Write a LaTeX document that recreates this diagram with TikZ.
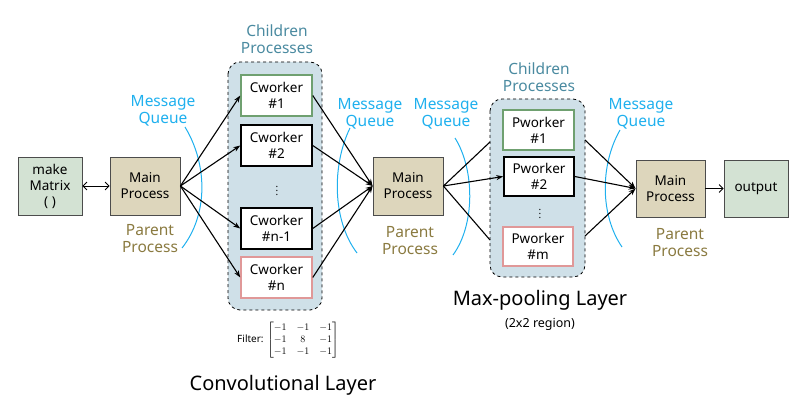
\documentclass[tikz,border=0pt]{standalone}
\usepackage{fontspec}
\usepackage{amsmath}
\setmainfont{Noto Sans}
\usetikzlibrary{arrows.meta}
\definecolor{gbox}{HTML}{D3E2D3}
\definecolor{tbox}{HTML}{DDD6BC}
\definecolor{cont}{HTML}{CFE0E8}
\definecolor{chl}{HTML}{4A8AA0}
\definecolor{mq}{HTML}{1FB0EE}
\definecolor{par}{HTML}{8A7A40}
\definecolor{gbd}{HTML}{6FA070}
\definecolor{rbd}{HTML}{E09898}
\begin{document}
\begin{tikzpicture}[x=1pt,y=-1pt,
  box/.style={draw=black!70,line width=0.8pt,minimum width=70pt,minimum height=58pt,align=center,font=\fontsize{13.5}{16}\selectfont,inner sep=1pt},
  wk/.style={draw,line width=1.5pt,fill=white,minimum width=71pt,minimum height=41pt,align=center,font=\fontsize{13.5}{16}\selectfont,inner sep=1pt},
  cnt/.style={draw,dashed,line width=0.8pt,fill=cont,rounded corners=12pt},
  lbl/.style={align=center,font=\fontsize{15.5}{17}\selectfont},
  arr/.style={-{Stealth[length=7pt,width=5pt]},line width=1.1pt},
  q/.style={mq,line width=1pt}]
\useasboundingbox (0,0) rectangle (810,403);
\draw[cnt] (228,62) rectangle (322,310);
\draw[cnt] (490,99) rectangle (585,277);
\node[box,fill=gbox,minimum width=64pt] (mm) at (50,186) {make\\Matrix\\( )};
\node[box,fill=tbox] (m1) at (145,186) {Main\\Process};
\node[box,fill=tbox] (m2) at (408,186) {Main\\Process};
\node[box,fill=tbox,minimum width=69pt,minimum height=57pt] (m3) at (670.5,188.5) {Main\\Process};
\node[box,fill=gbox,minimum width=64pt,minimum height=57pt] (out) at (756,188.5) {output};
\node[wk,draw=gbd] (c1) at (276.5,95.5) {Cworker\\\#1};
\node[wk] (c2) at (276.5,145.5) {Cworker\\\#2};
\node[inner sep=0pt] (cd) at (277,188) {$\vdots$};
\node[wk] (c3) at (276.5,228.5) {Cworker\\\#n-1};
\node[wk,draw=rbd] (c4) at (276.5,277.5) {Cworker\\\#n};
\node[wk,draw=gbd,minimum height=40pt] (p1) at (538.5,130) {Pworker\\\#1};
\node[wk,minimum width=70pt,minimum height=39pt] (p2) at (539,176.5) {Pworker\\\#2};
\node[inner sep=0pt] (pd) at (540,211) {$\vdots$};
\node[wk,draw=rbd,minimum width=70pt,minimum height=39pt] (p3) at (538,246.5) {Pworker\\\#m};
\coordinate (e1) at (490,142); \coordinate (e3) at (490,240);
\coordinate (f1) at (585,140); \coordinate (f3) at (585,236);
\node[lbl,text=chl] (ch1) at (277,39) {Children\\Processes};
\node[lbl,text=chl] (ch2) at (539,77) {Children\\Processes};
\node[lbl,text=mq] (q1) at (163,111) {Message\\Queue};
\node[lbl,text=mq] (q2) at (370,114) {Message\\Queue};
\node[lbl,text=mq] (q3) at (446,114) {Message\\Queue};
\node[lbl,text=mq] (q4) at (641,114) {Message\\Queue};
\node[lbl,text=par] (pp1) at (150,239) {Parent\\Process};
\node[lbl,text=par] (pp2) at (410,241) {Parent\\Process};
\node[lbl,text=par] (pp3) at (680,243) {Parent\\Process};
\draw[q] (185,127) .. controls (208,165) and (208,215) .. (182,248);
\draw[q] (350,128) .. controls (332,165) and (332,220) .. (357,253);
\draw[q] (455,138) .. controls (475,170) and (475,225) .. (453,255);
\draw[q] (620,130) .. controls (600,165) and (600,215) .. (622,247);
\draw[{Straight Barb[length=4pt]}-{Straight Barb[length=4pt]},line width=0.8pt] (mm) -- (m1);
\draw[-{Straight Barb[length=4pt]},line width=0.8pt] (m3) -- (out);
\foreach \c in {c1,c2,c3,c4}{
  \draw[arr] (m1.east) -- (\c.west);
  \draw[arr] (\c.east) -- (m2.west);}
\draw[line width=1.1pt] (m2.east) -- (e1);
\draw[line width=1.1pt] (m2.east) -- (e3);
\draw[arr] (m2.east) -- (p2.west);
\draw[arr] (f1) -- (m3.west);
\draw[arr] (p2.east) -- (m3.west);
\draw[arr] (f3) -- (m3.west);
\node[font=\fontsize{20}{24}\selectfont] (ml) at (540,300) {Max-pooling Layer};
\node[font=\fontsize{12.5}{15}\selectfont] (rg) at (540,324) {(2x2 region)};
\node[font=\fontsize{20}{24}\selectfont] (cl) at (283,385) {Convolutional Layer};
\node[font=\fontsize{10}{12}\selectfont] (fl) at (288,340) {Filter: $\begin{bmatrix}-1&-1&-1\\-1&8&-1\\-1&-1&-1\end{bmatrix}$};
\end{tikzpicture}
\end{document}
